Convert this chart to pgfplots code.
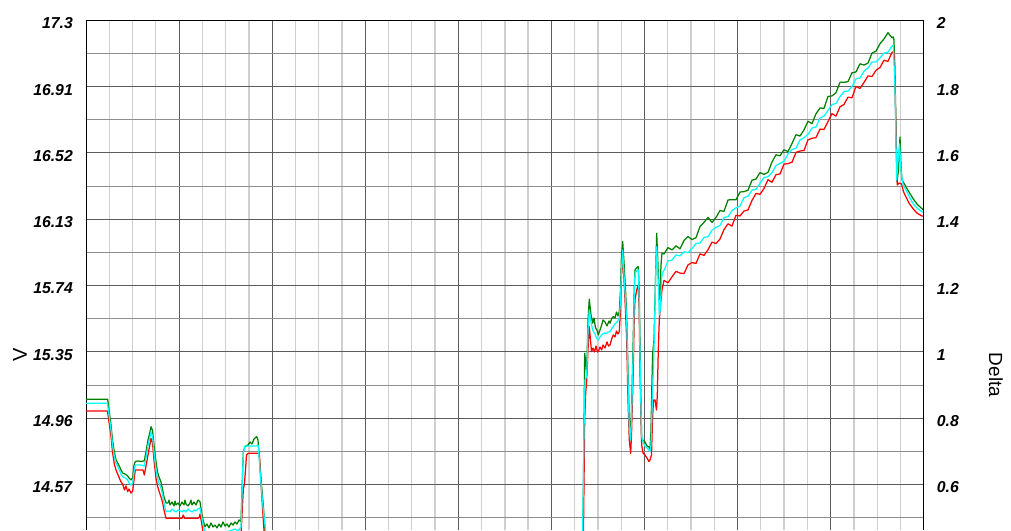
\documentclass[border=0pt]{standalone}
\usepackage{fontspec}
\setmainfont{Liberation Sans}
\usepackage{pgfplots}
\usepackage{pgfplotstable}
\pgfplotsset{compat=1.18}
\definecolor{sgreen}{HTML}{008000}
\definecolor{scyan}{HTML}{00FFFF}
\definecolor{sred}{HTML}{FF0000}
\definecolor{gmaj}{HTML}{5C5C5C}
\definecolor{gminh}{HTML}{8E8E8E}
\definecolor{gminv}{HTML}{CFCFCF}

\pgfplotstableread{
x V
0 15.071
21.7 15.071
23 15.008
25 14.919
26.5 14.831
28.3 14.761
30 14.714
33.3 14.678
35 14.655
36.7 14.637
39 14.631
41.7 14.619
43 14.608
45 14.596
46.7 14.608
48 14.684
49.3 14.704
52 14.708
55 14.705
58.3 14.708
60 14.761
62 14.831
64 14.878
65 14.909
66.5 14.890
68 14.802
70 14.702
71.5 14.643
73 14.614
75 14.584
76.7 14.537
78 14.496
80 14.461
82 14.461
83 14.478
84 14.449
86 14.466
88 14.443
89 14.472
90 14.449
92 14.461
94 14.443
96 14.466
98 14.449
99 14.478
100 14.455
102 14.443
104 14.461
105 14.478
106 14.449
108 14.466
110 14.449
112 14.478
114 14.468
115.7 14.400
117 14.361
119 14.321
121 14.337
123 14.314
125 14.343
127 14.319
129 14.331
131 14.314
133 14.337
135 14.319
137 14.349
139 14.325
141 14.337
143 14.319
145 14.343
147 14.331
149 14.349
151 14.337
153 14.361
155 14.351
157.3 14.762
159 14.792
162 14.802
164 14.819
166 14.808
168 14.837
170.7 14.851
172 14.831
174 14.684
175.5 14.566
177.3 14.449
179 14.302
181 14.125
214 13.890
495 13.890
496.5 14.125
497.5 14.596
498.7 15.341
500 15.272
500.7 15.224
502 15.537
503.3 15.659
505 15.567
506.7 15.518
508 15.549
509.5 15.490
511 15.478
512.3 15.449
514 15.478
515.7 15.508
517 15.537
519 15.525
521 15.502
523 15.531
524 15.518
526 15.549
527.3 15.557
529 15.549
530.5 15.584
532 15.561
533.3 15.586
534.5 15.714
535.5 15.919
536.7 15.998
538 15.878
539.5 15.714
540.7 15.567
542 15.243
543.3 14.949
544.5 14.872
545.5 15.008
546.5 15.243
547.3 15.449
548.2 15.714
549 15.831
550.5 15.843
552.3 15.851
553.2 15.714
554 15.390
555 15.037
555.7 14.821
557 14.831
559 14.819
561 14.796
563 14.790
564 14.772
565 14.890
566 15.184
566.7 15.343
568 15.419
569 15.655
570.7 16.047
572 15.861
573 15.684
574 15.655
575 15.861
576 15.931
578 15.925
582 15.963
586 15.949
590 15.973
594 15.956
598 16.004
602 16.028
606 16.010
610 16.021
614 16.087
618 16.111
622 16.141
626 16.111
630 16.140
634 16.181
638 16.176
642 16.243
646 16.245
650 16.244
654 16.290
658 16.292
662 16.300
666 16.359
670 16.366
674 16.404
678 16.394
682 16.405
686 16.466
690 16.509
694 16.503
698 16.538
702 16.528
706 16.575
710 16.627
714 16.619
718 16.655
722 16.706
726 16.692
730 16.750
734 16.784
738 16.782
742 16.852
746 16.855
750 16.874
754 16.935
758 16.935
762 16.939
766 16.991
770 16.996
774 17.044
778 17.037
782 17.048
786 17.107
790 17.118
794 17.162
798 17.190
802 17.227
806 17.197
807.3 17.202
808 17.184
809.5 16.831
811 16.349
812.5 16.419
814 16.614
815 16.449
816 16.361
819 16.331
823 16.290
827.3 16.249
831 16.219
835.7 16.194
837.7 16.184
}\greendata

\pgfplotstableread{
x V
0 15.002
21.5 15.002
23 14.937
25 14.855
26.5 14.761
28.3 14.690
30 14.655
33.3 14.608
35 14.584
36.7 14.572
38.5 14.537
40 14.561
41.7 14.527
43 14.543
45 14.519
46.7 14.531
48 14.596
49.3 14.655
57 14.655
58.3 14.625
60 14.678
62 14.743
64 14.808
65 14.841
66.5 14.814
68 14.714
70 14.608
71.5 14.561
73 14.531
75 14.496
76.7 14.461
78 14.419
80 14.371
96 14.371
97.3 14.390
98.5 14.371
112 14.371
113.5 14.378
114 14.396
115.7 14.341
117 14.290
119 14.243
154 14.243
155 14.272
157.3 14.537
158.5 14.578
159.5 14.655
160.5 14.743
162.3 14.753
173.3 14.753
174.5 14.625
176 14.478
177.3 14.361
179 14.214
181 14.066
214 13.890
496 13.890
497.5 14.302
498.7 14.949
499.7 15.108
500.7 15.184
502 15.361
503.3 15.498
504.5 15.419
505.5 15.351
507 15.372
508.5 15.349
510 15.384
511.5 15.349
512.3 15.351
514 15.378
515.7 15.361
517 15.390
519 15.372
521 15.408
522.5 15.384
524 15.390
526 15.431
527.3 15.449
529 15.437
530.5 15.472
532 15.455
533.3 15.468
534.5 15.596
535.5 15.802
536.7 15.909
538 15.772
539.5 15.596
540.7 15.419
542 15.067
543.3 14.831
544.7 14.753
545.5 14.861
546.5 15.067
547.3 15.243
548.2 15.537
549 15.655
550.7 15.714
552.3 15.743
553.2 15.596
554 15.243
555 14.949
555.7 14.802
557 14.755
559 14.743
561 14.725
563 14.704
564 14.714
565.5 14.743
566.5 14.949
567.5 15.067
569 15.067
570.5 15.008
571.3 15.090
572.3 15.361
573.3 15.537
575 15.655
576 15.714
578 15.770
582 15.756
586 15.791
590 15.823
594 15.813
598 15.810
602 15.861
606 15.875
610 15.870
614 15.926
618 15.917
622 15.950
626 15.995
630 15.987
634 16.013
638 16.069
642 16.103
646 16.089
650 16.153
654 16.149
658 16.178
662 16.184
666 16.240
670 16.282
674 16.276
678 16.311
682 16.362
686 16.347
690 16.392
694 16.396
698 16.454
702 16.457
706 16.465
710 16.523
714 16.531
718 16.534
722 16.597
726 16.606
730 16.610
734 16.660
738 16.658
742 16.705
746 16.751
750 16.736
754 16.791
758 16.805
762 16.848
766 16.844
770 16.911
774 16.899
778 16.934
782 16.973
786 16.969
790 17.006
794 17.022
798 17.065
802 17.058
806 17.112
807.5 17.114
808.5 17.096
809.5 16.772
811.3 16.331
813 16.343
815.7 16.337
817.3 16.296
819 16.272
823 16.225
827.3 16.190
831 16.166
835.7 16.149
837.7 16.149
}\reddata

\pgfplotstableread{
x V
0 15.047
21.5 15.047
23 14.978
25 14.890
26.5 14.802
28.3 14.733
30 14.696
33.3 14.655
35 14.631
36.7 14.615
39 14.608
41.7 14.596
43 14.578
45 14.566
46.7 14.578
48 14.643
49.3 14.684
52 14.684
55 14.684
58.3 14.678
60 14.725
62 14.802
64 14.849
65 14.880
66.5 14.855
68 14.761
70 14.655
71.5 14.608
73 14.578
75 14.549
76.7 14.508
78 14.461
80 14.409
82 14.414
84 14.408
86 14.425
88 14.414
90 14.408
92 14.419
94 14.414
96 14.408
98 14.419
100 14.408
102 14.425
104 14.414
106 14.408
108 14.419
110 14.414
112 14.425
114 14.431
115.7 14.380
117 14.337
119 14.290
124 14.284
129 14.290
134 14.278
139 14.290
144 14.296
149 14.308
152 14.296
155 14.319
157.3 14.755
159 14.796
164 14.796
169 14.796
172.3 14.798
174 14.655
175.5 14.537
177.3 14.419
180.7 14.243
182 14.125
214 13.890
495.5 13.890
496.7 14.302
498 14.890
499 15.184
500.7 15.204
502 15.478
503.3 15.596
505 15.525
506.7 15.478
509 15.455
510.5 15.431
512.3 15.419
514 15.437
515.7 15.449
518 15.461
520 15.455
522 15.466
524 15.468
526 15.490
527.3 15.498
529 15.514
531 15.525
533.3 15.547
534.5 15.655
535.5 15.831
536.7 15.949
538 15.802
539.5 15.655
540.7 15.537
542 15.184
543.3 14.909
544.5 14.831
545.5 14.949
546.5 15.184
547.3 15.380
548.2 15.655
549 15.812
550.5 15.825
552.3 15.831
553.2 15.655
554 15.343
555 15.008
555.7 14.851
557 14.819
559 14.796
561 14.784
563 14.772
564 14.762
565 14.802
565.7 14.949
566.5 15.096
567.3 15.224
568.5 15.478
569.5 15.772
570.7 15.968
572 15.802
573.3 15.567
574.3 15.596
575.7 15.792
577 15.819
579 15.841
582 15.884
586 15.890
590 15.920
594 15.914
598 15.938
602 15.933
606 15.957
610 15.987
614 15.990
618 16.023
622 16.026
626 16.065
630 16.082
634 16.093
638 16.140
642 16.145
646 16.180
650 16.197
654 16.207
658 16.257
662 16.265
666 16.301
670 16.306
674 16.341
678 16.375
682 16.380
686 16.404
690 16.446
694 16.458
698 16.471
702 16.514
706 16.540
710 16.547
714 16.596
718 16.609
722 16.629
726 16.666
730 16.673
734 16.726
738 16.736
742 16.770
746 16.804
750 16.811
754 16.851
758 16.880
762 16.884
766 16.910
770 16.956
774 16.960
778 17.001
782 17.019
786 17.054
790 17.054
794 17.078
798 17.107
802 17.113
806 17.148
807.3 17.155
809 16.909
810.7 16.361
812 16.478
813.5 16.572
815 16.419
815.7 16.380
817.3 16.325
819 16.312
823 16.266
827.3 16.219
831 16.196
835.7 16.174
837.7 16.171
}\cyandata

\begin{document}
\begin{tikzpicture}[x=1pt,y=1pt]
\begin{axis}[
  at={(86pt,0pt)}, anchor=south west,
  scale only axis, width=837.7pt, height=509.7pt,
  xmin=0, xmax=837.72, ymin=14.3017, ymax=17.3,
  axis x line*=top,
  axis line style={black, line width=0.9pt},
  xtick={0,93.08,186.16,279.24,372.32,465.4,558.48,651.56,744.64,837.72},
  minor x tick num=3,
  xticklabels={},
  ytick={14.57,14.96,15.35,15.74,16.13,16.52,16.91,17.3},
  minor ytick={14.375,14.765,15.155,15.545,15.935,16.325,16.715,17.105},
  yticklabels={\textbf{\textit{14.57}},\textbf{\textit{14.96}},\textbf{\textit{15.35}},\textbf{\textit{15.74}},\textbf{\textit{16.13}},\textbf{\textit{16.52}},\textbf{\textit{16.91}},\textbf{\textit{17.3}}},
  yticklabel style={font=\fontsize{15.8}{18}\selectfont, inner sep=0pt, anchor=east, xshift=-13pt, yshift=-3pt},
  major tick length=0pt, minor tick length=0pt,
  grid=both,
  major grid style={gmaj, line width=0.9pt},
  minor x grid style={gminv, line width=1.3pt},
  minor y grid style={gminh, line width=0.8pt},
  clip=true,
]
\addplot[sgreen, line width=1.25pt, line join=round, mark=none] table[x=x,y=V] {\greendata};
\addplot[sred, line width=1.25pt, line join=round, mark=none] table[x=x,y=V] {\reddata};
\addplot[scyan, line width=1.25pt, line join=round, mark=none] table[x=x,y=V] {\cyandata};
\end{axis}
\begin{axis}[
  at={(86pt,0pt)}, anchor=south west,
  scale only axis, width=837.7pt, height=509.7pt,
  xmin=0, xmax=837.72, ymin=0.4624, ymax=2,
  axis x line=none,
  axis y line*=right,
  axis line style={black, line width=0.9pt},
  ytick={0.6,0.8,1,1.2,1.4,1.6,1.8,2},
  yticklabels={\textbf{\textit{0.6}},\textbf{\textit{0.8}},\textbf{\textit{1}},\textbf{\textit{1.2}},\textbf{\textit{1.4}},\textbf{\textit{1.6}},\textbf{\textit{1.8}},\textbf{\textit{2}}},
  yticklabel style={font=\fontsize{15.8}{18}\selectfont, inner sep=0pt, anchor=west, xshift=13pt, yshift=-3pt},
  major tick length=0pt, minor tick length=0pt,
]
\end{axis}
\node[rotate=90, font=\fontsize{20}{22}\selectfont, inner sep=0pt] at (20pt,175pt) {V};
\node[rotate=-90, font=\fontsize{19}{22}\selectfont, inner sep=0pt] at (996pt,155pt) {Delta};
\pgfresetboundingbox
\path (0pt,0pt) rectangle (1011pt,530pt);
\end{tikzpicture}
\end{document}
